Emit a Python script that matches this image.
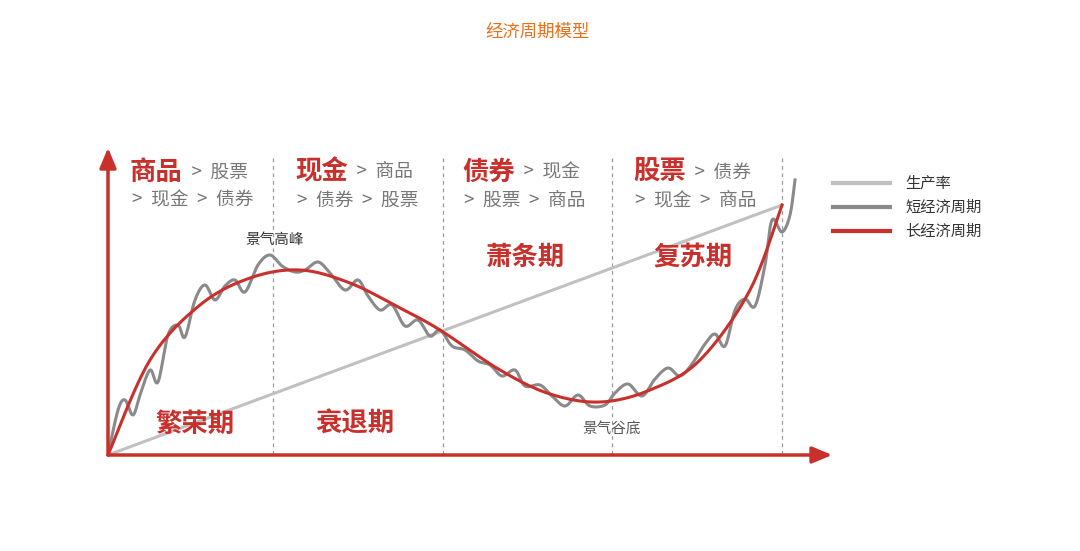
import numpy as np, pandas as pd, seaborn as sns, matplotlib
matplotlib.use("Agg")
import matplotlib.pyplot as plt
plt.rcParams['font.family'] = ['Noto Sans CJK SC']

# data in chart pixel space (x: time, y: level, inverted)
long_x = [108,150,200,250,300,350,400,440,500,550,600,650,700,750,782]
long_y = [455,360,305,278,270,283,308,330,370,394,402,390,360,290,205]
short_x = [108,118,125,133,140,150,158,168,178,185,195,205,215,225,235,245,258,270,282,295,305,318,330,345,358,368,380,392,405,418,430,440,452,465,478,490,502,515,525,540,552,565,578,590,605,615,628,642,655,668,680,692,705,715,725,735,745,755,765,772,782,790,795]
short_y = [455,410,400,415,395,370,382,335,325,337,300,285,300,286,280,292,265,255,266,272,270,262,273,290,280,296,310,305,326,320,336,330,346,350,361,365,376,370,386,385,396,406,395,406,405,393,384,396,379,368,376,364,344,334,346,310,299,306,265,220,232,215,180]
prod_x = [108,782]
prod_y = [455,205]
dividers = [273,443,612,782]
phases = ["繁荣期","衰退期","萧条期","复苏期"]
heads = ["商品","现金","债券","股票"]
line1 = ["  >  股票","  >  商品","  >  现金","  >  债券"]
line2 = [">  现金  >  债券",">  债券  >  股票",">  股票  >  商品",">  现金  >  商品"]

def smooth(x, y, n=12):
    x = np.asarray(x, float); y = np.asarray(y, float)
    P = np.column_stack([x, y]); P = np.vstack([P[0], P, P[-1]])
    out = []
    t = np.linspace(0, 1, n, endpoint=False)[:, None]
    for i in range(1, len(P) - 2):
        p0, p1, p2, p3 = P[i-1], P[i], P[i+1], P[i+2]
        out.append(0.5*((2*p1) + (-p0+p2)*t + (2*p0-5*p1+4*p2-p3)*t**2 + (-p0+3*p1-3*p2+p3)*t**3))
    out.append(P[-2][None])
    o = np.vstack(out); return o[:, 0], o[:, 1]

fig = plt.figure(figsize=(10.8, 5.51), dpi=100)
ax = fig.add_axes([0, 0, 1, 1])
ax.set_xlim(0, 1080); ax.set_ylim(551, 0); ax.axis('off')

red, gray, lgray = "#c9302c", "#8a8a8a", "#c0c0c0"
for d in dividers:
    ax.plot([d, d], [158, 455], ls=(0, (3, 3)), color="#999999", lw=0.9)
sns.lineplot(x=prod_x, y=prod_y, color=lgray, lw=2.2, ax=ax, sort=False)
sx, sy = smooth(short_x, short_y)
sns.lineplot(x=sx, y=sy, color=gray, lw=2.2, ax=ax, sort=False, estimator=None)
lx, ly = smooth(long_x, long_y)
sns.lineplot(x=lx, y=ly, color=red, lw=2.2, ax=ax, sort=False, estimator=None)

ax.annotate("", xy=(835, 455), xytext=(106, 455), arrowprops=dict(arrowstyle="-|>,head_width=0.5,head_length=1.2", color=red, lw=2.5))
ax.annotate("", xy=(108, 145), xytext=(108, 457), arrowprops=dict(arrowstyle="-|>,head_width=0.5,head_length=1.2", color=red, lw=2.5))

ax.text(538, 32, "经济周期模型", color="#e8701a", fontsize=12.5, ha='center', va='center')
starts = [130, 295, 462, 633]
for s, h, a, b in zip(starts, heads, line1, line2):
    t = ax.text(s, 172, h, color=red, fontsize=19, fontweight='bold', va='center')
    ax.annotate(a, xycoords=t, xy=(1, 0.5), va='center', fontsize=13.5, color="#777777")
    ax.text(s + 2, 200, b, color="#777777", fontsize=13.5, va='center')
pp = [(195, 424), (355, 424), (525, 257), (693, 257)]
for (px, py), p in zip(pp, phases):
    ax.text(px, py, p, color=red, fontsize=19, fontweight='bold', ha='center', va='center')
ax.text(275, 240, "景气高峰", fontsize=10.5, color="#333333", ha='center', va='center')
ax.text(612, 429, "景气谷底", fontsize=10.5, color="#555555", ha='center', va='center')

for yy, c, lab in [(183, lgray, "生产率"), (207, gray, "短经济周期"), (231, red, "长经济周期")]:
    ax.plot([833, 890], [yy, yy], color=c, lw=3)
    ax.text(905, yy, lab, fontsize=11, color="#333333", va='center')

fig.savefig("out.png", dpi=100)
